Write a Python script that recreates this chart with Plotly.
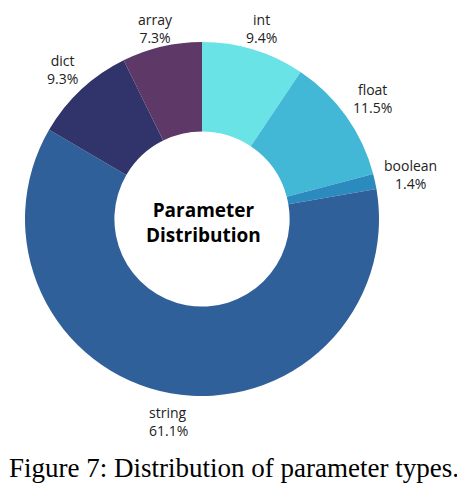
import plotly.graph_objects as go

# parameter type shares (%), clockwise from 12 o'clock
types = ["int", "float", "boolean", "string", "dict", "array"]
shares = [9.4, 11.5, 1.4, 61.1, 9.3, 7.3]
colors = ["#6AE3E6", "#43B8D6", "#2B8BBE", "#30609A", "#30346B", "#5E3866"]

W, H = 465, 489
OFF = 8  # page body margin


def px_x(x):
    return (x - OFF) / W


def px_y(y):
    return 1 - (y - OFF) / H


fig = go.Figure(go.Pie(
    labels=types,
    values=shares,
    sort=False,
    direction="clockwise",
    rotation=0,
    hole=0.495,
    marker=dict(colors=colors, line=dict(width=0)),
    textinfo="none",
    hoverinfo="label+percent",
    domain=dict(x=[px_x(25), px_x(379)], y=[px_y(396), px_y(42)]),
    showlegend=False,
))

# outside labels: (x, y centre) in page pixels
label_pos = {
    "int": (261, 28),
    "float": (372, 98),
    "boolean": (410, 175),
    "string": (147, 421),
    "dict": (62, 69),
    "array": (155, 28),
}
for name, val in zip(types, shares):
    lx, ly = label_pos[name]
    left = name == "string"
    fig.add_annotation(
        text=f"{name}<br>{val:.1f}%",
        x=px_x(lx), y=px_y(ly), xref="paper", yref="paper",
        xanchor="left" if left else "center", yanchor="middle",
        showarrow=False,
        align="left" if left else "center",
        font=dict(family="Open Sans", size=14, color="#222222"),
    )

# label in the hole
fig.add_annotation(
    text="<b>Parameter<br>Distribution</b>",
    x=px_x(203), y=px_y(222), xref="paper", yref="paper",
    xanchor="center", yanchor="middle",
    showarrow=False,
    font=dict(family="Open Sans", size=19, color="black"),
)

# figure caption
fig.add_annotation(
    text="Figure 7: Distribution of parameter types.",
    x=px_x(234), y=px_y(468), xref="paper", yref="paper",
    xanchor="center", yanchor="middle",
    showarrow=False,
    font=dict(family="Liberation Serif", size=27, color="black"),
)

fig.update_layout(
    width=W, height=H,
    margin=dict(l=0, r=0, t=0, b=0),
    paper_bgcolor="white",
    plot_bgcolor="white",
)

fig.write_html("out.html")
